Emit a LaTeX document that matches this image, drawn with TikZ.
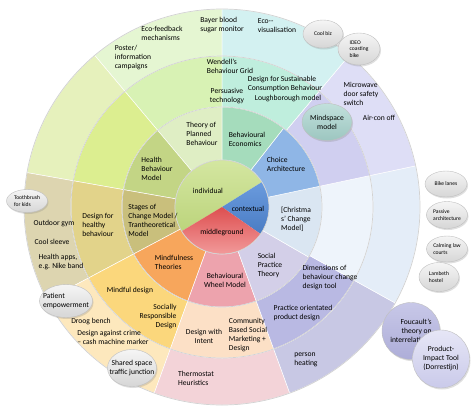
\documentclass[tikz,border=0pt]{standalone}
\usepackage{fontspec}
\setmainfont{Carlito}
\usetikzlibrary{positioning,shapes.geometric,shadows}
\definecolor{cA1}{HTML}{E5F6D2}\definecolor{cA2}{HTML}{E6F1BC}\definecolor{cA3}{HTML}{DDD5B0}
\definecolor{cA4}{HTML}{FDE8BD}\definecolor{cA5}{HTML}{F3D3D8}\definecolor{cA6}{HTML}{C8C8E4}
\definecolor{cA7}{HTML}{E4EDF8}\definecolor{cA8}{HTML}{DEDEF6}\definecolor{cA9}{HTML}{D3F1F1}
\definecolor{cB1}{HTML}{D8F2B4}\definecolor{cB2}{HTML}{DCEE90}\definecolor{cB3}{HTML}{E2D38A}
\definecolor{cB4}{HTML}{FBD77C}\definecolor{cB5}{HTML}{FCE0C6}\definecolor{cB6}{HTML}{B9B9E3}
\definecolor{cB7}{HTML}{EEF4FB}\definecolor{cB8}{HTML}{D0CFF0}\definecolor{cB9}{HTML}{BFEEDD}
\definecolor{cC1}{HTML}{DFEEC4}\definecolor{cC2}{HTML}{C3D585}\definecolor{cC3}{HTML}{C9BF7C}
\definecolor{cC4}{HTML}{F7A65C}\definecolor{cC5}{HTML}{EDA3AD}\definecolor{cC6}{HTML}{D3CFE8}
\definecolor{cC7}{HTML}{DAE6F2}\definecolor{cC8}{HTML}{8FB6E6}\definecolor{cC9}{HTML}{A5DCBC}
\definecolor{indivA}{HTML}{D6E8A4}\definecolor{indivB}{HTML}{BCD47C}
\definecolor{contA}{HTML}{6A9BDD}\definecolor{contB}{HTML}{4A7CC4}
\definecolor{midA}{HTML}{DD4F50}\definecolor{midB}{HTML}{F29A9A}
\definecolor{mindA}{HTML}{C2E0DC}\definecolor{mindB}{HTML}{9CC6C0}
\definecolor{foucA}{HTML}{C8C8E8}\definecolor{foucB}{HTML}{ADADD8}
\definecolor{prodA}{HTML}{E6E6F6}\definecolor{prodB}{HTML}{CACAEA}
\begin{document}
\begin{tikzpicture}[x=1pt,y=-1pt,
	lbl/.style={font=\fontsize{7.6}{9}\selectfont,text=black,align=left,inner sep=0pt},
	small/.style={font=\fontsize{5.6}{6.6}\selectfont,text=black,align=left,inner sep=0pt},
	bubble/.style={ellipse,draw=gray!50,top color=gray!8,bottom color=gray!32,inner sep=0pt,
		drop shadow={opacity=0.25,shadow xshift=1pt,shadow yshift=-1.5pt}}]
	\useasboundingbox (0,0) rectangle (474,410);
	\begin{scope}[shift={(222,207)},yscale=-1]
		\foreach \a/\b/\c in {90/130/cA1,130/170/cA2,170/208/cA3,208/250/cA4,250/290/cA5,290/331/cA6,331/372/cA7,372/410/cA8,410/450/cA9}
			\filldraw[fill=\c,draw=white,line width=.5pt] (\a:151) -- (\a:198) arc[start angle=\a,end angle=\b,radius=198] -- (\b:151) arc[start angle=\b,end angle=\a,radius=151] -- cycle;
		\foreach \a/\b/\c in {90/130/cB1,130/170/cB2,170/208/cB3,208/250/cB4,250/290/cB5,290/331/cB6,331/372/cB7,372/410/cB8,410/450/cB9}
			\filldraw[fill=\c,draw=white,line width=.5pt] (\a:100) -- (\a:151) arc[start angle=\a,end angle=\b,radius=151] -- (\b:100) arc[start angle=\b,end angle=\a,radius=100] -- cycle;
		\foreach \a/\b/\c in {90/130/cC1,130/170/cC2,170/208/cC3,208/250/cC4,250/290/cC5,290/330/cC6,330/372/cC7,372/412/cC8,412/450/cC9}
			\filldraw[fill=\c,draw=white,line width=.5pt] (\a:47) -- (\a:100) arc[start angle=\a,end angle=\b,radius=100] -- (\b:47) arc[start angle=\b,end angle=\a,radius=47] -- cycle;
		\shade[top color=indivA,bottom color=indivB] (0,0) -- (32:47) arc[start angle=32,end angle=211,radius=47] -- cycle;
		\shade[top color=contA,bottom color=contB] (0,0) -- (-35:47) arc[start angle=-35,end angle=32,radius=47] -- cycle;
		\shade[top color=midA,bottom color=midB] (0,0) -- (211:47) arc[start angle=211,end angle=325,radius=47] -- cycle;
		\foreach \r in {47,100,151,198}
			\draw[gray!35,line width=.7pt] (0,0) circle[radius=\r];
	\end{scope}
	% outer ring
	\node[lbl] (ecofeedback) at (162,33) {Eco-feedback\\mechanisms};
	\node[lbl] (poster) at (133,58) {Poster/\\information\\campaigns};
	\node[lbl] (bayer) at (222,25) {Bayer blood\\sugar monitor};
	\node[lbl] (ecovis) at (277,26) {Eco-{}-\\visualisation};
	\node[lbl] (microwave) at (361,94) {Microwave\\door safety\\switch};
	\node[lbl] (aircon) at (379,118) {Air-con off};
	\node[lbl] (gym) at (54,224) {Outdoor gym};
	\node[lbl] (sleeve) at (52,242) {Cool sleeve};
	\node[lbl] (apps) at (61,262) {Health apps,\\e.g. Nike band};
	\node[lbl] (droog) at (91,322) {Droog bench};
	\node[lbl] (crime) at (113,337) {Design against crime\\-- cash machine marker};
	\node[lbl] (thermostat) at (196,378) {Thermostat\\Heuristics};
	\node[lbl] (heating) at (306,360) {person\\heating};
	% middle ring
	\node[lbl] (wendell) at (230,66) {Wendell's\\Behaviour Grid};
	\node[lbl] (sustain) at (285,84) {Design for Sustainable\\Consumption Behaviour};
	\node[lbl,align=center] (persuasive) at (227,96) {Persuasive\\technology};
	\node[lbl] (lboro) at (288,99) {Loughborough model};
	\node[lbl] (healthy) at (98,225) {Design for\\healthy\\behaviour};
	\node[lbl] (minddesign) at (130,291) {Mindful design};
	\node[lbl,align=right] (socially) at (158,317) {Socially\\Responsible\\Design};
	\node[lbl,align=center] (intent) at (204,336) {Design with\\Intent};
	\node[lbl] (community) at (248,335) {Community\\Based Social\\Marketing +\\Design};
	\node[lbl] (orientated) at (303,313) {Practice orientated\\product design};
	\node[lbl] (dimensions) at (330,278) {Dimensions of\\behaviour change\\design tool};
	% inner ring
	\node[lbl] (planned) at (202,134) {Theory of\\Planned\\Behaviour};
	\node[lbl] (beheco) at (247,139) {Behavioural\\Economics};
	\node[lbl] (choice) at (286,164) {Choice\\Architecture};
	\node[lbl] (christmas) at (296,219) {[Christma\\s' Change\\Model]};
	\node[lbl] (practice) at (270,265) {Social\\Practice\\Theory};
	\node[lbl,align=center] (wheel) at (225,280) {Behavioural\\Wheel Model};
	\node[lbl] (mindfulness) at (174,262) {Mindfulness\\Theories};
	\node[lbl] (stages) at (153,220) {Stages of\\Change Model /\\Trantheoretical\\Model};
	\node[lbl] (healthmodel) at (157,169) {Health\\Behaviour\\Model};
	% core
	\node[lbl] (individual) at (208,191) {individual};
	\node[lbl] (contextual) at (248,209) {contextual};
	\node[lbl] (middle) at (222,233) {middleground};
	% bubbles
	\node[bubble,minimum width=40pt,minimum height=28pt] (coolbiz) at (323,34) {};
	\node[small] (coolbiz-t) at (coolbiz) {Cool biz};
	\node[bubble,minimum width=42pt,minimum height=32pt] (ideo) at (359,49) {};
	\node[small] (ideo-t) at (ideo) {IDEO\\coasting\\bike};
	\node[bubble,top color=mindA,bottom color=mindB,minimum width=50pt,minimum height=37pt] (mindspace) at (327,122) {};
	\node[lbl,align=center] (mindspace-t) at (mindspace) {Mindspace\\model};
	\node[bubble,minimum width=41pt,minimum height=23pt] (toothbrush) at (27,201) {};
	\node[small] (toothbrush-t) at (toothbrush) {Toothbrush\\for kids};
	\node[bubble,minimum width=53pt,minimum height=33pt] (patient) at (66,301) {};
	\node[lbl] (patient-t) at (patient) {Patient\\empowerment};
	\node[bubble,minimum width=49pt,minimum height=37pt] (shared) at (132,368) {};
	\node[lbl,align=center] (shared-t) at (shared) {Shared space\\traffic junction};
	\node[bubble,minimum width=42pt,minimum height=26pt] (bikelanes) at (446,184) {};
	\node[small] (bikelanes-t) at (bikelanes) {Bike lanes};
	\node[bubble,minimum width=41pt,minimum height=27pt] (passive) at (447,215) {};
	\node[small] (passive-t) at (passive) {Passive\\architecture};
	\node[bubble,minimum width=41pt,minimum height=26pt] (calming) at (447,249) {};
	\node[small] (calming-t) at (calming) {Calming law\\courts};
	\node[bubble,minimum width=40pt,minimum height=29pt] (lambeth) at (439,277) {};
	\node[small] (lambeth-t) at (lambeth) {Lambeth\\hostel};
	\node[bubble,top color=foucA,bottom color=foucB,minimum width=58pt,minimum height=57pt] (foucault) at (411,331) {};
	\node[lbl,align=right] (foucault-t) at (foucault) {Foucault's\\theory on\\interrelations};
	\node[bubble,top color=prodA,bottom color=prodB,minimum width=57pt,minimum height=58pt] (product) at (441,359) {};
	\node[lbl,align=center] (product-t) at (product) {Product-\\Impact Tool\\(Dorrestijn)};
\end{tikzpicture}
\end{document}
